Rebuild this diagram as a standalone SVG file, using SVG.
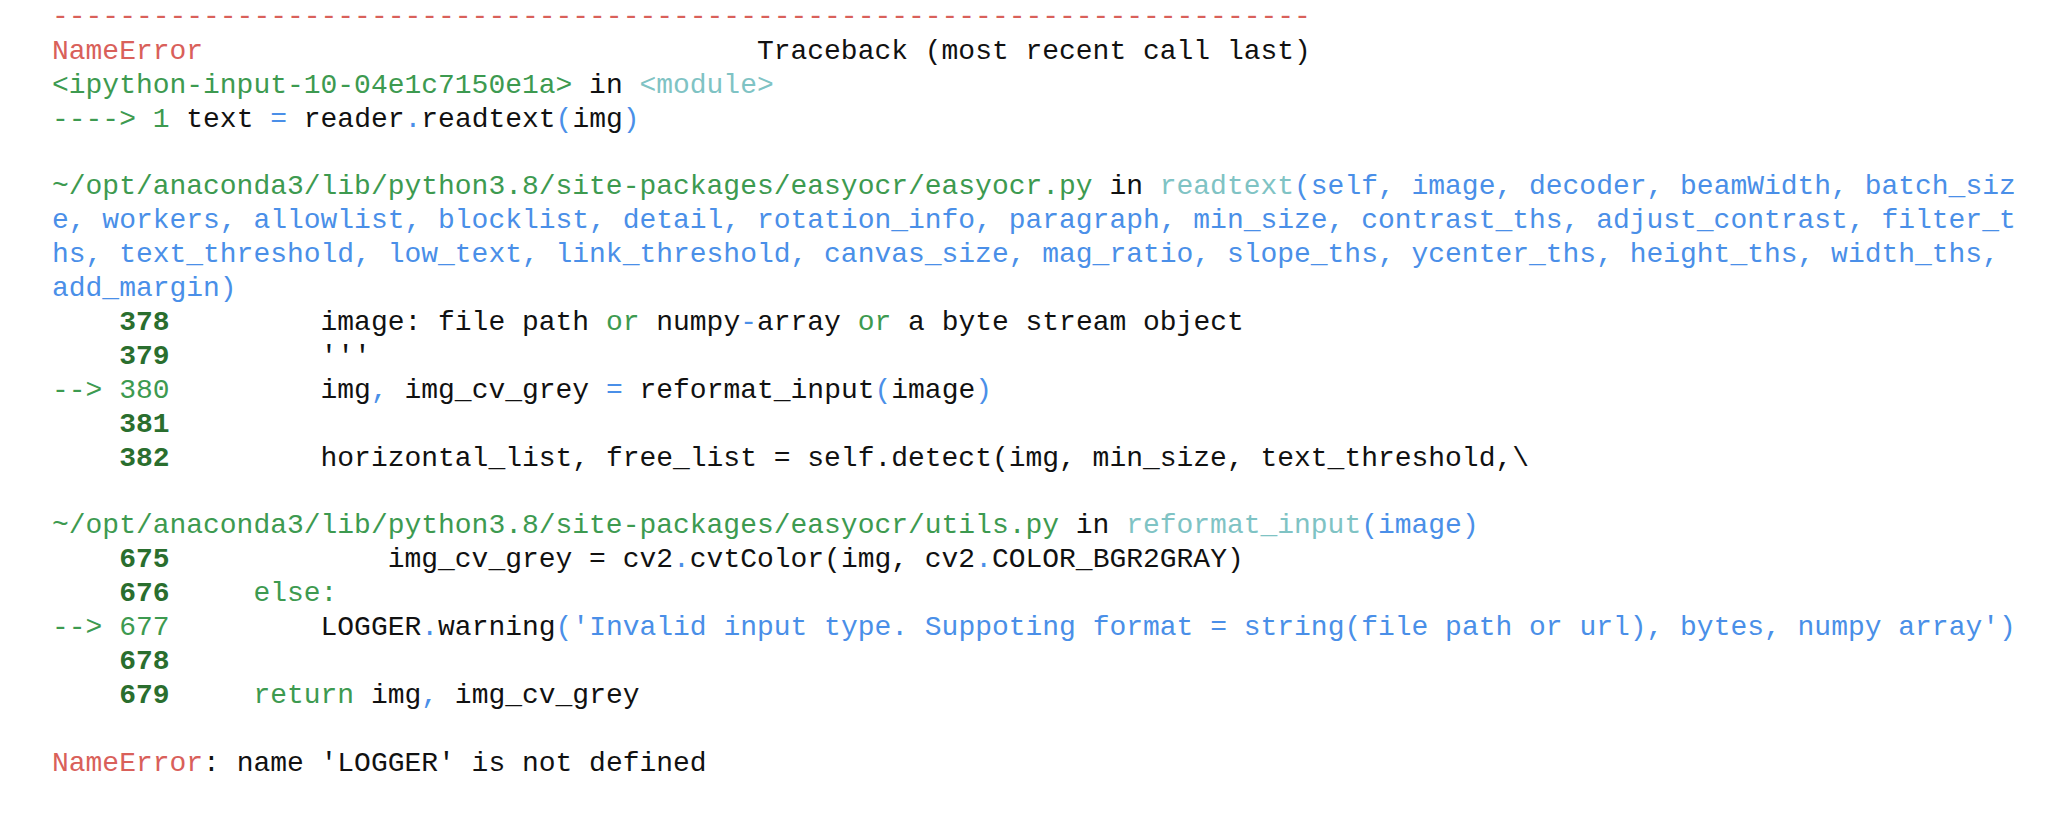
<svg xmlns="http://www.w3.org/2000/svg" width="2070" height="836" viewBox="0 0 2070 836">
<style>
text{font-family:"Liberation Mono","DejaVu Sans Mono",monospace;font-size:27.97px;fill:#111;white-space:pre}
.r{fill:#d9605a}.g{fill:#3d9a50}.c{fill:#7fc3c4}.b{fill:#4a8fe8}.n{fill:#2a6e2e;font-weight:bold}
</style>
<rect width="2070" height="836" fill="#fff"/>
<g id="traceback" xml:space="preserve">
<text x="52" y="24" class="r">---------------------------------------------------------------------------</text>
<text x="52" y="59"><tspan class="r">NameError</tspan>                                 Traceback (most recent call last)</text>
<text x="52" y="93"><tspan class="g">&lt;ipython-input-10-04e1c7150e1a&gt;</tspan> in <tspan class="c">&lt;module&gt;</tspan></text>
<text x="52" y="127"><tspan class="g">----&gt; 1</tspan> text <tspan class="b">=</tspan> reader<tspan class="b">.</tspan>readtext<tspan class="b">(</tspan>img<tspan class="b">)</tspan></text>
<text x="52" y="194"><tspan class="g">~/opt/anaconda3/lib/python3.8/site-packages/easyocr/easyocr.py</tspan> in <tspan class="c">readtext</tspan><tspan class="b">(self, image, decoder, beamWidth, batch_siz</tspan></text>
<text x="52" y="228" class="b">e, workers, allowlist, blocklist, detail, rotation_info, paragraph, min_size, contrast_ths, adjust_contrast, filter_t</text>
<text x="52" y="262" class="b">hs, text_threshold, low_text, link_threshold, canvas_size, mag_ratio, slope_ths, ycenter_ths, height_ths, width_ths,</text>
<text x="52" y="296" class="b">add_margin)</text>
<text x="52" y="330"><tspan class="n">    378</tspan>         image: file path <tspan class="g">or</tspan> numpy<tspan class="b">-</tspan>array <tspan class="g">or</tspan> a byte stream object</text>
<text x="52" y="364"><tspan class="n">    379</tspan>         '''</text>
<text x="52" y="398"><tspan class="g">--&gt; 380</tspan>         img<tspan class="b">,</tspan> img_cv_grey <tspan class="b">=</tspan> reformat_input<tspan class="b">(</tspan>image<tspan class="b">)</tspan></text>
<text x="52" y="432"><tspan class="n">    381</tspan></text>
<text x="52" y="466"><tspan class="n">    382</tspan>         horizontal_list, free_list = self.detect(img, min_size, text_threshold,\</text>
<text x="52" y="533"><tspan class="g">~/opt/anaconda3/lib/python3.8/site-packages/easyocr/utils.py</tspan> in <tspan class="c">reformat_input</tspan><tspan class="b">(image)</tspan></text>
<text x="52" y="567"><tspan class="n">    675</tspan>             img_cv_grey = cv2<tspan class="b">.</tspan>cvtColor(img, cv2<tspan class="b">.</tspan>COLOR_BGR2GRAY)</text>
<text x="52" y="601"><tspan class="n">    676</tspan>     <tspan class="g">else:</tspan></text>
<text x="52" y="635"><tspan class="g">--&gt; 677</tspan>         LOGGER<tspan class="b">.</tspan>warning<tspan class="b">('Invalid input type. Suppoting format = string(file path or url), bytes, numpy array')</tspan></text>
<text x="52" y="669"><tspan class="n">    678</tspan></text>
<text x="52" y="703"><tspan class="n">    679</tspan>     <tspan class="g">return</tspan> img<tspan class="b">,</tspan> img_cv_grey</text>
<text x="52" y="771"><tspan class="r">NameError</tspan>: name 'LOGGER' is not defined</text>
</g>
</svg>
